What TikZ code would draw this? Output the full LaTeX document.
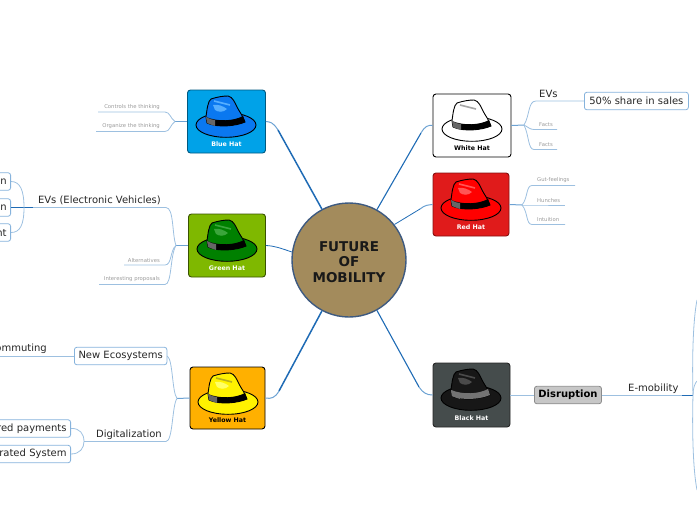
\documentclass[tikz,border=0pt]{standalone}
\usepackage{fontspec}
\setmainfont{DejaVu Sans}
\definecolor{linelight}{HTML}{9DC0E0}
\definecolor{linemid}{HTML}{6CA2D3}
\definecolor{linedark}{HTML}{1F6BB5}
\definecolor{boxline}{HTML}{86B3DC}
\definecolor{leafgrey}{HTML}{9A9A9A}
\definecolor{hatblue}{HTML}{00A2E8}
\definecolor{hatgreen}{HTML}{7FB800}
\definecolor{hatyellow}{HTML}{FFB000}
\definecolor{hatred}{HTML}{E01B1B}
\definecolor{hatblack}{HTML}{454C4C}
\definecolor{crownblue}{HTML}{0A78F0}
\definecolor{lightblue}{HTML}{55AEFF}
\definecolor{crowngreen}{HTML}{008000}
\definecolor{lightgreen}{HTML}{3BA53B}
\definecolor{lightyellow}{HTML}{FFFF66}
\definecolor{streakyellow}{HTML}{B8B020}
\definecolor{lightred}{HTML}{FF5555}
\definecolor{crownblack}{HTML}{171717}
\definecolor{lightblack}{HTML}{4A4A4A}
\definecolor{centrefill}{HTML}{A38B5C}
\definecolor{centreline}{HTML}{3E5A80}
\newcommand{\drawhat}[6]{%
 \begin{scope}[shift={#1}]
  \draw[black,line width=.9pt,fill=#2] (0,4) ellipse[x radius=30,y radius=12.3];
  \draw[black,line width=.9pt,fill=#2] (-19,2) -- (-20,-4)
    .. controls (-19,-12) and (-18,-20) .. (-15,-22)
    .. controls (-9,-24) and (-3,-25) .. (2,-25)
    .. controls (7,-24) and (9,-18) .. (11,-14)
    .. controls (13,-10) and (17,-5) .. (19,1)
    .. controls (10,5) and (-8,7) .. cycle;
  \fill[#3] (-13,-16) .. controls (-8,-17) and (-3,-15) .. (1,-12)
    .. controls (-3,-8) and (-8,-9) .. (-11,-11) -- cycle;
  \draw[#4,line width=1.6pt] (-12,-20) -- (4,-16);
  \fill[#5] (-20,-4) .. controls (-8,1) and (8,0) .. (17,-5)
    -- (19,1) .. controls (10,5) and (-8,7) .. (-19,2) -- cycle;
  \fill[#6] (-20,-4) .. controls (-16,-2) and (-13,-1) .. (-11,-1)
    -- (-11,5) .. controls (-14,4) and (-17,3) .. (-19,2) -- cycle;
 \end{scope}}
\tikzset{
 x=1pt,y=-1pt,
 hatbox/.style={draw,rounded corners=3pt,line width=.9pt,inner sep=0pt},
 hatlabel/.style={font=\bfseries\fontsize{6.3}{7}\selectfont,inner sep=0pt,anchor=south,yshift=6.5pt},
 topic/.style={draw=boxline,fill=white,rounded corners=2.5pt,line width=.8pt,font=\fontsize{10}{12}\selectfont,text=black!85,inner ysep=0pt,inner xsep=4pt,minimum height=17.5pt},
 offtopic/.style={topic,anchor=east,minimum width=80pt,align=right,text width=72pt},
 plain/.style={font=\fontsize{10}{12}\selectfont,text=black!85,inner sep=0pt},
 leaf/.style={font=\fontsize{5.3}{6}\selectfont,text=leafgrey,inner xsep=5pt,inner ysep=2.5pt},
 thinbranch/.style={draw=linelight,line width=.8pt},
 midbranch/.style={draw=linemid,line width=1pt},
 mainbranch/.style={draw=linedark,line width=1.5pt},
}
\begin{document}
\begin{tikzpicture}
\useasboundingbox (0,0) rectangle (697,520);
\clip (0,0) rectangle (697,520);

% hubs
\node[circle,draw=centreline,line width=1.4pt,fill=centrefill,minimum size=114pt,inner sep=0pt,align=center,
      font=\bfseries\fontsize{13.5}{15.5}\selectfont,text=black!90] (c) at (349,260) {\rule{0pt}{14pt}FUTURE\\OF\\MOBILITY};
\node[hatbox,draw=hatblue!55!black,fill=hatblue,minimum width=78pt,minimum height=63pt,
      label={[hatlabel,text=white]south:Blue Hat}] (blue) at (226.5,121.5) {};
\node[hatbox,draw=hatgreen!45!black,fill=hatgreen,minimum width=77pt,minimum height=63pt,
      label={[hatlabel,text=white]south:Green Hat}] (green) at (227,245.5) {};
\node[hatbox,draw=black,fill=hatyellow,minimum width=75pt,minimum height=62pt,
      label={[hatlabel,text=black]south:Yellow Hat}] (yellow) at (227.5,398) {};
\node[hatbox,draw=black,fill=white,minimum width=78pt,minimum height=63pt,
      label={[hatlabel,text=black]south:White Hat}] (white) at (472,125.5) {};
\node[hatbox,draw=hatred!60!black,fill=hatred,minimum width=76pt,minimum height=63pt,
      label={[hatlabel,text=white]south:Red Hat}] (red) at (471,204.5) {};
\node[hatbox,draw=black!85,fill=hatblack,minimum width=77pt,minimum height=64pt,
      label={[hatlabel,text=white]south:Black Hat}] (black) at (471.5,395) {};

% hats
\drawhat{(226,121)}{crownblue}{lightblue}{lightblue}{black}{black!60}
\drawhat{(227,245)}{crowngreen}{lightgreen}{lightgreen}{black}{black!60}
\drawhat{(228,398)}{yellow}{lightyellow}{streakyellow}{black}{black!60}
\drawhat{(472,125)}{white}{white}{black!35}{black}{black!60}
\drawhat{(471,204)}{red}{lightred}{lightred}{black}{black!60}
\drawhat{(471,394)}{crownblack}{lightblack}{lightblack}{black!55}{black!55}

% main connectors: heavy near the hub, lighter near the hat
\coordinate (mb) at (278,130);
\coordinate (my) at (279,391);
\coordinate (mw) at (421,133);
\coordinate (mr) at (420,209);
\coordinate (mk) at (419,387);
\draw[mainbranch] (c.118) -- (mb);
\draw[midbranch] (mb) .. controls (273,122) and (270,122) .. (blue.east);
\draw[midbranch,draw=linedark,line width=.8pt] (c.172) .. controls (280,248) and (275,246) .. (green.east);
\draw[mainbranch] (c.242) -- (my);
\draw[midbranch] (my) .. controls (275,398) and (271,399) .. (yellow.east);
\draw[mainbranch,line width=1.1pt] (c.61) -- (mw);
\draw[midbranch] (mw) .. controls (425,126) and (428,125) .. (white.west);
\draw[midbranch,draw=linedark,line width=.8pt] (c.38) -- (mr);
\draw[midbranch] (mr) .. controls (425,205) and (428,205) .. (red.west);
\draw[mainbranch,line width=1.1pt] (c.299) -- (mk);
\draw[midbranch] (mk) .. controls (423,393) and (427,395) .. (black.west);

% blue
\node[leaf,anchor=south east] (b1) at (165,112) {Controls the thinking};
\node[leaf,anchor=south east] (b2) at (165,131.5) {Organize the thinking};
\coordinate (bj) at (175,121.5);
\draw[midbranch] (blue.west) -- (bj);
\draw[thinbranch] (bj) .. controls (170,118) and (170,112) .. (b1.south east) -- ++(-67,0);
\draw[thinbranch] (bj) .. controls (170,125) and (170,131.5) .. (b2.south east) -- ++(-69,0);

% green
\node[plain,anchor=base east] (g0) at (161,203) {EVs (Electronic Vehicles)};
\node[leaf,anchor=south east] (g1) at (165,265) {Alternatives};
\node[leaf,anchor=south east] (g2) at (165,284.5) {Interesting proposals};
\coordinate (gj) at (176,245.5);
\coordinate (ge) at (166,207.5);
\coordinate (gl) at (33,207.5);
\coordinate (gk) at (24,207.5);
\node[offtopic] (g3) at (11,181.5) {n};
\node[offtopic] (g4) at (11,207.5) {n};
\node[offtopic] (g5) at (11,232.5) {nt};
\draw[midbranch] (green.west) -- (gj);
\draw[thinbranch] (gj) .. controls (172,235) and (174,207.5) .. (ge) -- (gl);
\draw[midbranch,draw=linedark,line width=.8pt] (gl) -- (g4.east);
\draw[thinbranch] (gj) .. controls (170,250) and (172,265) .. (g1.south east) -- ++(-41,0);
\draw[thinbranch] (gj) .. controls (170,255) and (172,284.5) .. (g2.south east) -- ++(-66,0);
\draw[thinbranch] (g3.east) .. controls (20,181.5) and (24,190) .. (gk) .. controls (24,225) and (20,232.5) .. (g5.east);

% yellow
\node[topic,anchor=west,minimum width=92.5pt] (y1) at (74,356) {New Ecosystems};
\node[plain,anchor=base east] (y2) at (162,437) {Digitalization};
\node[plain,anchor=base east] (y3) at (47,351) {ommuting};
\node[offtopic] (y4) at (71,428.5) {red payments};
\node[offtopic] (y5) at (71,454) {rated System};
\coordinate (yj) at (177,398.5);
\coordinate (ye) at (166,441.5);
\coordinate (yk) at (84,441.5);
\coordinate (yl) at (0,356);
\draw[midbranch] (yellow.west) -- (yj);
\draw[thinbranch] (yj) .. controls (172,392) and (173,360) .. (y1.east);
\draw[thinbranch] (yj) .. controls (172,405) and (173,441.5) .. (ye) -- (yk);
\draw[thinbranch] (y1.west) -- (yl);
\draw[thinbranch] (y4.east) .. controls (80,428) and (84,434) .. (yk) .. controls (84,448) and (80,454) .. (y5.east);

% white
\node[topic,anchor=west,minimum width=104pt] (w1) at (584,101) {50\% share in sales};
\node[plain,anchor=base west] (w2) at (539,97) {EVs};
\node[leaf,anchor=south west] (w3) at (534,129.5) {Facts};
\node[leaf,anchor=south west] (w4) at (534,149.5) {Facts};
\coordinate (wj) at (524,125);
\draw[midbranch] (white.east) -- (wj);
\draw[thinbranch] (wj) .. controls (530,115) and (528,101) .. (536,101) -- (w1.west);
\draw[thinbranch] (wj) .. controls (528,127) and (530,129.5) .. (w3.south west) -- ++(23,0);
\draw[thinbranch] (wj) .. controls (529,135) and (528,149.5) .. (w4.south west) -- ++(23,0);

% red
\node[leaf,anchor=south west] (r1) at (532,185.5) {Gut-feelings};
\node[leaf,anchor=south west] (r2) at (532,205) {Hunches};
\node[leaf,anchor=south west] (r3) at (532,224.5) {Intuition};
\coordinate (rj) at (522,205);
\draw[midbranch] (red.east) -- (rj);
\draw[thinbranch] (rj) .. controls (528,198) and (526,185.5) .. (r1.south west) -- ++(43,0);
\draw[thinbranch] (rj) -- (r2.south west) -- ++(33,0);
\draw[thinbranch] (rj) .. controls (528,212) and (526,224.5) .. (r3.south west) -- ++(33,0);

% black
\node[topic,anchor=west,draw=black!45,fill=black!22,minimum width=66.5pt,font=\bfseries\fontsize{10}{12}\selectfont,text=black] (d) at (534,395) {Disruption};
\node[plain,anchor=base west] (e) at (628,391) {E-mobility};
\coordinate (ej) at (693,395);
\coordinate (ed) at (682,395);
\coordinate (e1) at (697,300);
\coordinate (e2) at (697,381);
\coordinate (e3) at (697,490);
\draw[thinbranch] (black.east) -- (d.west);
\draw[thinbranch] (d.east) -- (ed);
\draw[draw=linedark,line width=.8pt] (ed) -- (ej);
\draw[thinbranch] (ej) .. controls (692,360) and (693,320) .. (e1);
\draw[thinbranch] (ej) .. controls (693,388) and (695,383) .. (e2);
\draw[thinbranch] (ej) .. controls (692,430) and (693,470) .. (e3);
\end{tikzpicture}
\end{document}
